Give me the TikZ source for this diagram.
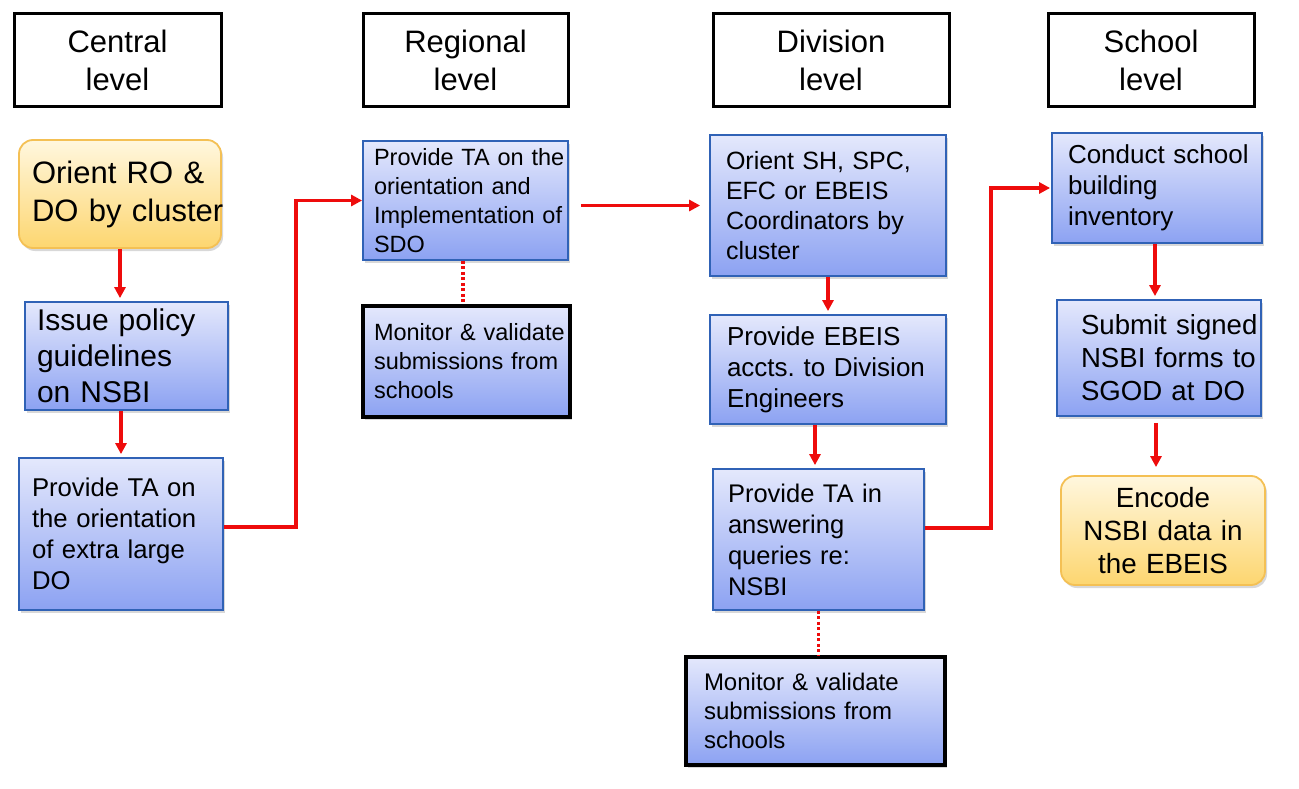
\documentclass[tikz,border=0pt]{standalone}
\usepackage{fontspec}
\setmainfont{Liberation Sans}
\usetikzlibrary{arrows.meta,shadows,calc}
\definecolor{bluetop}{RGB}{228,232,252}
\definecolor{bluebot}{RGB}{140,162,242}
\definecolor{blueedge}{RGB}{48,98,182}
\definecolor{yeltop}{RGB}{255,247,222}
\definecolor{yelbot}{RGB}{253,214,112}
\definecolor{yeledge}{RGB}{244,192,84}
\definecolor{arrred}{RGB}{238,12,12}
\hfuzz=100pt
\hyphenpenalty=10000
\exhyphenpenalty=10000
\begin{document}
\begin{tikzpicture}[x=1pt,y=-1pt,
  header/.style={draw=black,line width=3pt,fill=white,minimum height=93pt,
    inner sep=0pt,align=center,font=\fontsize{31}{38}\selectfont},
  bluebox/.style={draw=blueedge,line width=1.8pt,top color=bluetop,bottom color=bluebot,
    drop shadow={shadow xshift=2pt,shadow yshift=-3pt,opacity=0.3},
    align=left,inner ysep=0pt},
  monbox/.style={bluebox,draw=black,line width=3.5pt},
  yelbox/.style={draw=yeledge,line width=1.8pt,top color=yeltop,bottom color=yelbot,
    rounded corners=14pt,
    drop shadow={shadow xshift=2pt,shadow yshift=-3pt,opacity=0.3},
    align=left,inner ysep=0pt},
  arr/.style={draw=arrred,line width=3.2pt,-{Triangle[length=11pt,width=11pt]},shorten >=3pt},
  dots/.style={draw=arrred,line width=3.2pt,dash pattern=on 3pt off 2.5pt}
]
\useasboundingbox[fill=white] (0,0) rectangle (1299,789);

% headers
\node[header, minimum width=207pt] (hC) at (117.5,60.5) {Central\\level};
\node[header, minimum width=205pt] (hR) at (465.5,60.5) {Regional\\level};
\node[header, minimum width=236pt] (hD) at (831,60.5) {Division\\level};
\node[header, minimum width=206pt] (hS) at (1151,60.5) {School\\level};

% central
\node[yelbox, minimum width=202pt, minimum height=108pt, text width=176pt, inner xsep=13pt,
  font=\fontsize{31}{38}\selectfont] (c1) at (120,194) {Orient~RO~\&\\DO~by~cluster};
\node[bluebox, minimum width=203pt, minimum height=108pt, text width=179pt, inner xsep=12pt,
  font=\fontsize{30}{36}\selectfont] (c2) at (126.5,356) {Issue~policy\\guidelines\\on~NSBI};
\node[bluebox, minimum width=204pt, minimum height=152pt, text width=178pt, inner xsep=13pt,
  font=\fontsize{25.7}{31}\selectfont] (c3) at (121,534) {Provide~TA~on\\the~orientation\\of~extra~large\\DO};

% regional
\node[bluebox, minimum width=205pt, minimum height=119pt, text width=183pt, inner xsep=11pt,
  font=\fontsize{23.5}{29}\selectfont] (r1) at (465.5,200.5) {Provide~TA~on~the\\orientation~and\\Implementation~of\\SDO};
\node[monbox, minimum width=207pt, minimum height=111pt, text width=185pt, inner xsep=11pt,
  font=\fontsize{23.5}{29}\selectfont] (r2) at (466.5,361.5) {Monitor~\&~validate\\submissions~from\\schools};

% division
\node[bluebox, minimum width=236pt, minimum height=141pt, text width=204pt, inner xsep=16pt,
  font=\fontsize{25}{30}\selectfont] (d1) at (828,205.5) {Orient~SH,~SPC,\\EFC~or~EBEIS\\Coordinators~by\\cluster};
\node[bluebox, minimum width=236pt, minimum height=109pt, text width=202pt, inner xsep=17pt,
  font=\fontsize{26}{31}\selectfont] (d2) at (828,369.5) {Provide~EBEIS\\accts.~to~Division\\Engineers};
\node[bluebox, minimum width=211pt, minimum height=141pt, text width=181pt, inner xsep=15pt,
  font=\fontsize{25.5}{31}\selectfont] (d3) at (818.5,539.5) {Provide~TA~in\\answering\\queries~re:\\NSBI};
\node[monbox, minimum width=259pt, minimum height=108pt, text width=223pt, inner xsep=18pt,
  font=\fontsize{24}{29}\selectfont] (d4) at (815.5,711) {Monitor~\&~validate\\submissions~from\\schools};

% school
\node[bluebox, minimum width=210pt, minimum height=110pt, text width=178pt, inner xsep=16pt,
  font=\fontsize{26}{31}\selectfont] (s1) at (1157,188) {Conduct~school\\building\\inventory};
\node[bluebox, minimum width=204pt, minimum height=116pt, text width=156pt, inner xsep=24pt,
  font=\fontsize{27.6}{33}\selectfont] (s2) at (1159,358) {Submit~signed\\NSBI~forms~to\\SGOD~at~DO};
\node[yelbox, align=center, minimum width=204pt, minimum height=109pt, text width=180pt, inner xsep=12pt,
  font=\fontsize{27.8}{33}\selectfont] (s3) at (1163,530.5) {Encode\\NSBI~data~in\\the~EBEIS};

% connectors
\draw[arr] (c1.south) -- (c1.south |- c2.north);
\draw[arr] (c3.north |- c2.south) -- (c3.north);
\draw[arr,shorten >=0pt] ([yshift=7pt]c3.east) -- ++(72,0) |- (r1.west);
\draw[arr,shorten >=9pt] ([xshift=12pt]r1.east |- d1.west) -- (d1.west);
\draw[dots] ([xshift=-2.5pt]r1.south) -- ([xshift=-2.5pt]r1.south |- r2.north);

\draw[arr] (d1.south) -- (d2.north);
\draw[arr] ([xshift=-3.5pt]d3.north |- d2.south) -- ([xshift=-3.5pt]d3.north);
\draw[arr,shorten >=1pt] ([yshift=11.5pt]d3.east) -- ++(66,0) |- (s1.west);
\draw[dots] (d3.south) -- (d3.south |- d4.north);

\draw[arr] ([xshift=-2pt]s1.south) -- ([xshift=-2pt]s1.south |- s2.north);
\draw[arr,shorten <=6pt,shorten >=8pt] ([xshift=-3pt]s2.south) -- ([xshift=-3pt]s2.south |- s3.north);
\end{tikzpicture}
\end{document}
